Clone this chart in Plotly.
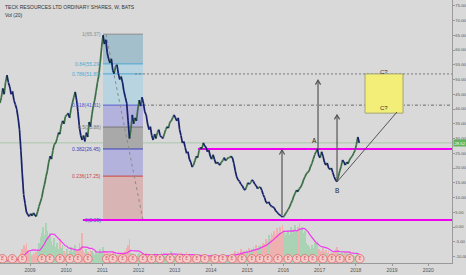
import plotly.graph_objects as go
import pandas as pd

# ---------------- data ----------------
START_YEAR = 2008.171      # first bar (decimal year)
BAR_STEP = 1 / 26          # two-week sampling

price = [
    42, 44, 47, 45, 49, 51.5, 49, 47.5, 45, 46,
    43, 41.5, 40, 37, 33, 26, 18, 11, 8, 5,
    4.2, 3.6, 4.5, 3.8, 4.8, 4.0, 3.6, 5.2, 7, 8.5,
    10, 12.5, 14.5, 17, 19, 22, 24, 23, 26, 28,
    28.5, 30, 32, 31.5, 34.5, 36, 35, 37.5, 38, 38.6,
    37, 40, 42, 44, 45.8, 43, 39, 34, 31, 29.5,
    31, 29, 32, 30.5, 35.6, 34, 38, 41, 43, 46,
    49, 51.5, 56, 61, 65, 62, 63.5, 59, 57, 55.6,
    57, 53, 52, 54.5, 55, 52, 50, 51, 49, 46,
    44, 42, 36, 30, 33, 38, 35, 37, 36, 40,
    43, 41, 44, 42, 39, 38, 35, 33, 34, 31,
    29.5, 31.5, 30, 32, 33, 31, 30.5, 30, 31.5, 33,
    34, 33.5, 35.5, 36, 37, 38, 37, 36, 37, 33,
    31, 28.5, 29, 27, 25, 25.5, 23, 22, 20.3, 21,
    22.5, 24, 23.5, 26, 27, 26.5, 28.5, 27.5, 27, 25.5,
    26, 24, 23, 24.5, 23, 21.5, 22, 21.5, 21, 22,
    22.5, 23.5, 22.5, 23, 23.5, 23.5, 24, 23.4, 21.5, 19,
    17, 16, 15.5, 14.5, 14, 13, 12.5, 13.5, 15, 14.5,
    15, 16, 15.5, 14.5, 14, 13, 13.5, 13.5, 12.5, 11,
    10, 8.5, 8, 8.5, 7.5, 7, 6.8, 6.5, 5.5, 5,
    4.5, 4, 3.8, 3.4, 3.6, 4.5, 5.2, 6, 6.8, 8,
    9, 10.5, 11.5, 12.5, 12, 13, 13.5, 14.5, 16, 17,
    18, 18.5, 19, 20.5, 21.5, 23, 24.5, 25.5, 26.5, 24,
    23.5, 25.5, 24, 22, 21, 21.7, 20, 19.5, 20, 18.5,
    17, 16, 15.3, 17, 19, 20.5, 22.7, 22, 21, 22,
    21.5, 22.7, 23.5, 24, 25, 26, 28, 30.5, 28.52,
]

volume = [
    2, 3, 1, 2, 3, 2, 4, 2, 3, 3,
    4, 3, 5, 6, 8, 10, 14, 18, 16, 20,
    13, 10, 12, 8, 10, 9, 11, 14, 20, 26,
    30, 36, 28, 40, 32, 26, 30, 22, 18, 25,
    16, 20, 14, 24, 15, 18, 12, 10, 14, 9,
    12, 16, 11, 14, 18, 12, 13, 20, 16, 30,
    12, 10, 14, 11, 9, 13, 12, 10, 8, 12,
    9, 11, 14, 10, 16, 12, 9, 11, 8, 10,
    9, 12, 7, 10, 8, 11, 9, 8, 10, 9,
    12, 15, 18, 24, 10, 9, 8, 9, 7, 8,
    10, 8, 9, 7, 8, 10, 7, 8, 7, 9,
    8, 10, 9, 7, 8, 9, 11, 8, 9, 7,
    8, 10, 9, 12, 8, 7, 9, 8, 7, 9,
    10, 8, 7, 9, 11, 8, 7, 8, 9, 7,
    6, 8, 7, 9, 6, 7, 8, 6, 7, 8,
    6, 7, 9, 6, 8, 7, 6, 7, 8, 6,
    7, 9, 7, 6, 8, 7, 8, 9, 10, 12,
    8, 11, 9, 14, 10, 12, 11, 13, 11, 15,
    12, 14, 16, 13, 18, 15, 17, 18, 16, 20,
    19, 24, 22, 28, 24, 30, 28, 32, 28, 35,
    30, 36, 30, 38, 32, 28, 30, 33, 28, 36,
    30, 34, 38, 32, 36, 40, 34, 36, 30, 32,
    20, 18, 16, 14, 18, 15, 20, 20, 22, 14,
    12, 12, 15, 11, 13, 10, 12, 9, 11, 10,
    12, 14, 16, 11, 9, 10, 12, 9, 11, 10,
    8, 12, 9, 8, 10, 7, 11, 9, 6,
]

event_dates = [2008.24, 2008.51, 2008.79, 2009.33, 2009.55, 2009.83, 2010.10,
               2010.32, 2010.60, 2011.12, 2011.29, 2011.56, 2011.84, 2012.12,
               2012.36, 2012.59, 2012.87, 2013.14, 2013.33, 2013.61, 2013.83,
               2014.11, 2014.33, 2014.58, 2014.86, 2015.13, 2015.35, 2015.57,
               2015.85, 2016.13, 2016.37, 2016.59, 2016.81, 2017.09, 2017.34,
               2017.56, 2017.83, 2018.11]

year_ticks = list(range(2009, 2021))
price_ticks = list(range(-10, 80, 5))
last_price = 28.52

# fibonacci retracement drawing
fib_low, fib_high = 2.39, 65.37
fib_ratios = [1, 0.84, 0.786, 0.618, 0.5, 0.382, 0.236, 0]
fib_line_colors = ["#8c8c8c", "#4fa8d4", "#4fa8d4", "#5656cf", "#777777",
                   "#4040bb", "#cc4444", "#5656cf"]
fib_band_colors = ["#a3bfcc", "#b7d4e0", "#b7d4e0", "#b2b2dd", "#a9a9a9",
                   "#b2b2dd", "#d9b4b4"]
fib_x0, fib_x1 = 2011.017, 2012.12
fib_trend = ([2011.10, 2012.12], [65.37, 2.39])

# other drawings (x in decimal years, y in price)
support_hi = (2013.64, 26.45)
support_lo = (2010.46, 2.39)
dash_level = (2011.90, 51.89)
dashdot_level = (2012.12, 41.31)
arrows = [(2015.961, 4.1, 26.1), (2016.956, 26.5, 49.8), (2017.481, 15.3, 38.0)]
trend_line = ([2017.481, 2019.138], [15.3, 39.0])
target_box = (2018.254, 2019.304, 38.6, 51.9)
point_labels = [("A", 2016.845, 29.4), ("B", 2017.481, 12.3)]

X_RANGE = [2008.171, 2020.657]
Y_RANGE = [-12.2, 76.95]
PX_X = (X_RANGE[1] - X_RANGE[0]) / 452
PX_Y = (Y_RANGE[1] - Y_RANGE[0]) / 263

# ---------------- figure ----------------
dates = [START_YEAR + i * BAR_STEP for i in range(len(price))]
vol_colors = ["#a9d3b4" if i == 0 or price[i] >= price[i - 1] else "#efb0b0"
              for i in range(len(price))]
vol_ma = pd.Series(volume).rolling(10, min_periods=1).mean().tolist()

up_x, up_y, dn_x, dn_y = [], [], [], []
for i in range(1, len(price)):
    if price[i] >= price[i - 1]:
        up_x += [dates[i - 1], dates[i], None]
        up_y += [price[i - 1], price[i], None]
    else:
        dn_x += [dates[i - 1], dates[i], None]
        dn_y += [price[i - 1], price[i], None]

fig = go.Figure()
fig.add_trace(go.Scatter(x=up_x, y=up_y, mode="lines",
                         line=dict(color="#3b6e45", width=1.7), hoverinfo="skip"))
fig.add_trace(go.Scatter(x=dn_x, y=dn_y, mode="lines",
                         line=dict(color="#17206a", width=1.7), hoverinfo="skip"))
fig.add_trace(go.Bar(x=dates, y=volume, marker_color=vol_colors, marker_line_width=0,
                     width=BAR_STEP * 0.5, yaxis="y2", hoverinfo="skip"))
fig.add_trace(go.Scatter(x=dates, y=vol_ma, mode="lines", yaxis="y2",
                         line=dict(color="#ee3cee", width=1.2), hoverinfo="skip"))
fig.add_trace(go.Scatter(x=event_dates, y=[4.2] * len(event_dates), mode="markers+text",
                         yaxis="y2", text=["E"] * len(event_dates),
                         textposition="middle center",
                         textfont=dict(size=5, color="#d05a5a"), cliponaxis=False,
                         marker=dict(size=8.5, color="#f5cccc",
                                     line=dict(color="#e07a7a", width=1)),
                         hoverinfo="skip"))

shapes = []
levels = [fib_low + r * (fib_high - fib_low) for r in fib_ratios]
for k in range(len(levels) - 1):
    shapes.append(dict(type="rect", x0=fib_x0, x1=fib_x1, y0=levels[k + 1], y1=levels[k],
                       fillcolor=fib_band_colors[k], line_width=0, layer="below"))
for lev, col in zip(levels, fib_line_colors):
    shapes.append(dict(type="line", x0=fib_x0, x1=fib_x1, y0=lev, y1=lev,
                       line=dict(color=col, width=1), layer="below"))
shapes.append(dict(type="line", x0=fib_trend[0][0], x1=fib_trend[0][1],
                   y0=fib_trend[1][0], y1=fib_trend[1][1],
                   line=dict(color="#8a8a8a", width=1, dash="dot"), layer="below"))
# current price line
shapes.append(dict(type="line", xref="paper", x0=0, x1=1, y0=last_price, y1=last_price,
                   line=dict(color="#a9c6a9", width=1), layer="below"))
# dashed levels
shapes.append(dict(type="line", xref="x", x0=dash_level[0], x1=X_RANGE[1],
                   y0=dash_level[1], y1=dash_level[1],
                   line=dict(color="#7a7a7a", width=1, dash="2px,2px"), layer="below"))
shapes.append(dict(type="line", xref="x", x0=dashdot_level[0], x1=X_RANGE[1],
                   y0=dashdot_level[1], y1=dashdot_level[1],
                   line=dict(color="#6a6a6a", width=1, dash="3px,2px,1px,2px"), layer="below"))
# magenta supports
for sx, sy in (support_hi, support_lo):
    shapes.append(dict(type="line", x0=sx, x1=X_RANGE[1], y0=sy, y1=sy,
                       line=dict(color="#f000f0", width=2), layer="below"))
# target box
bx0, bx1, by0, by1 = target_box
shapes.append(dict(type="rect", x0=bx0, x1=bx1, y0=by0, y1=by1,
                   fillcolor="#f3ee78", line=dict(color="#a3a37a", width=1)))
# trend line
shapes.append(dict(type="line", x0=trend_line[0][0], x1=trend_line[0][1],
                   y0=trend_line[1][0], y1=trend_line[1][1],
                   line=dict(color="#555555", width=1)))
# arrows
for ax, y0, y1 in arrows:
    shapes.append(dict(type="line", x0=ax, x1=ax, y0=y0, y1=y1,
                       line=dict(color="#555555", width=1.2)))
    dx, dy = 2.6 * PX_X, 4.5 * PX_Y
    shapes.append(dict(type="path",
                       path=f"M {ax - dx} {y1 - dy} L {ax} {y1} L {ax + dx} {y1 - dy}",
                       line=dict(color="#555555", width=1.2)))

FONT = "Liberation Sans Narrow, Liberation Sans, Arial"
annotations = []
for r, lev, col in zip(fib_ratios, levels, fib_line_colors):
    annotations.append(dict(x=fib_x0 - 0.01, y=lev, xref="x", yref="y",
                            text=f"{r}({lev:.2f})", showarrow=False, xanchor="right",
                            yanchor="middle", font=dict(size=5, color=col, family=FONT)))
for txt, lx, ly in point_labels:
    annotations.append(dict(x=lx, y=ly, text=txt, showarrow=False,
                            font=dict(size=6.5, color="#222", family=FONT)))
annotations.append(dict(x=(bx0 + bx1) / 2, y=by1 + 0.6, text="C?", showarrow=False,
                        font=dict(size=6, color="#333", family=FONT)))
annotations.append(dict(x=(bx0 + bx1) / 2, y=by0 + 1.6, text="C?", showarrow=False,
                        font=dict(size=6, color="#333", family=FONT)))
annotations.append(dict(xref="paper", yref="paper", x=0.006, y=0.994, xanchor="left",
                        yanchor="top", showarrow=False,
                        text="TECK RESOURCES LTD ORDINARY SHARES, W, BATS",
                        font=dict(size=5, color="#333", family=FONT)))
annotations.append(dict(xref="paper", yref="paper", x=0.006, y=0.962, xanchor="left",
                        yanchor="top", showarrow=False, text="Vol (20)",
                        font=dict(size=5, color="#333", family=FONT)))
annotations.append(dict(xref="paper", yref="y", x=1.002, y=last_price, xanchor="left",
                        yanchor="middle", showarrow=False, text=f"{last_price:.2f}",
                        bgcolor="#62b35c", borderpad=0.5,
                        font=dict(size=4.2, color="#ffffff", family=FONT)))

fig.update_layout(
    width=466, height=275,
    margin=dict(l=0, r=14, t=0, b=12, pad=0),
    paper_bgcolor="#d9d9d9", plot_bgcolor="#d9d9d9",
    showlegend=False, bargap=0,
    shapes=shapes, annotations=annotations,
    xaxis=dict(range=X_RANGE, showgrid=False, zeroline=False, tickmode="array",
               tickvals=year_ticks, ticktext=[str(y) for y in year_ticks],
               tickfont=dict(size=5, color="#555", family=FONT),
               ticks="outside", ticklen=2, tickcolor="#999",
               showline=True, linecolor="#9a9a9a", linewidth=1, automargin=False),
    yaxis=dict(range=Y_RANGE, side="right", showgrid=False, zeroline=False,
               tickmode="array", tickvals=price_ticks,
               ticktext=[f"{v:.2f}" for v in price_ticks],
               tickfont=dict(size=4.2, color="#555", family=FONT),
               ticks="outside", ticklen=1.5, tickcolor="#999",
               showline=True, linecolor="#9a9a9a", linewidth=1, automargin=False),
    yaxis2=dict(range=[0, 263], overlaying="y", visible=False),
)

fig.write_html("out.html")
